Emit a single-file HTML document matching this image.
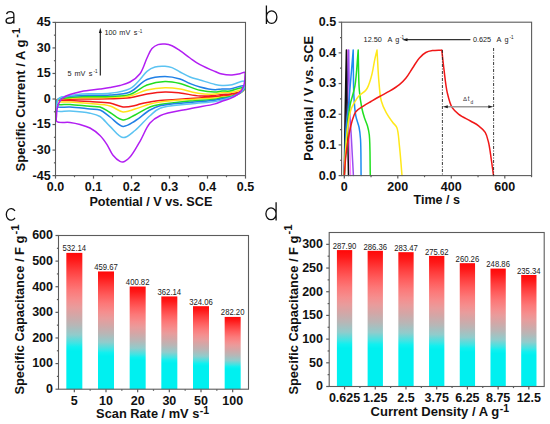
<!DOCTYPE html><html><head><meta charset="utf-8"><style>html,body{margin:0;padding:0;background:#fff;width:550px;height:424px;overflow:hidden}svg{display:block}text{font-family:"Liberation Sans",sans-serif}</style></head><body>
<svg width="550" height="424" viewBox="0 0 550 424">
<rect width="550" height="424" fill="#fff"/>
<defs><clipPath id="clipA"><rect x="55.50" y="22.40" width="190.00" height="153.20"/></clipPath></defs>
<g fill="none" stroke-width="1.5" stroke-linejoin="round" stroke-linecap="round" clip-path="url(#clipA)">
<path d="M56.60,100.10 C56.58,99.96 57.36,99.73 58.00,99.60 C59.29,99.33 61.46,99.31 64.00,99.20 C68.39,99.02 75.34,98.97 82.00,98.90 C90.31,98.82 101.45,99.05 110.00,98.80 C117.23,98.59 123.64,98.56 130.00,97.70 C135.93,96.90 141.23,94.95 147.00,94.00 C152.89,93.03 159.27,92.13 165.00,92.00 C170.22,91.88 174.65,92.42 180.00,93.00 C186.20,93.67 193.80,95.66 200.00,96.00 C205.34,96.29 210.95,95.77 215.00,95.40 C217.78,95.15 219.58,94.62 222.00,94.40 C224.57,94.17 227.35,94.41 230.00,94.10 C232.68,93.78 235.69,93.29 238.00,92.50 C239.91,91.84 241.81,90.49 243.00,90.00 C243.63,89.74 244.43,89.39 244.50,89.50 C244.58,89.63 243.66,90.48 243.00,91.00 C242.02,91.78 240.45,92.81 239.00,93.50 C237.46,94.23 235.59,94.85 234.00,95.20 C232.61,95.50 231.56,95.47 230.00,95.60 C227.79,95.78 224.58,95.89 222.00,96.10 C219.59,96.30 218.05,96.54 215.00,96.80 C209.24,97.28 198.71,97.91 190.00,98.50 C180.46,99.14 167.31,99.71 160.00,100.50 C155.76,100.96 153.33,101.42 150.00,102.00 C146.66,102.58 142.75,103.31 140.00,104.00 C138.03,104.49 137.05,105.08 135.00,105.50 C131.88,106.14 127.04,107.26 123.00,106.90 C118.71,106.52 114.85,103.89 110.00,103.00 C104.10,101.92 96.67,102.02 90.00,101.60 C83.33,101.18 76.00,100.75 70.00,100.50 C65.09,100.29 56.66,100.51 56.60,100.10Z" stroke="#f21a1a"/>
<path d="M56.60,101.50 C56.39,101.12 57.03,100.37 57.50,100.00 C58.08,99.54 58.97,99.42 60.00,99.20 C61.56,98.86 63.51,98.71 66.00,98.50 C70.05,98.16 75.92,97.87 82.00,97.70 C90.03,97.47 101.46,97.85 110.00,97.50 C117.23,97.20 123.69,97.33 130.00,96.00 C135.98,94.74 141.18,91.37 147.00,90.00 C152.84,88.63 159.27,87.92 165.00,87.80 C170.22,87.69 174.67,88.18 180.00,89.00 C186.22,89.96 193.77,92.83 200.00,93.60 C205.32,94.26 210.95,94.20 215.00,93.90 C217.78,93.69 219.58,92.95 222.00,92.70 C224.57,92.43 227.35,92.71 230.00,92.40 C232.68,92.08 235.67,91.49 238.00,90.80 C239.89,90.24 241.78,89.11 243.00,88.80 C243.67,88.63 244.48,88.40 244.60,88.60 C244.74,88.84 243.82,89.87 243.20,90.50 C242.39,91.33 241.24,92.25 240.00,93.00 C238.56,93.88 236.70,94.77 235.00,95.30 C233.37,95.81 231.87,95.94 230.00,96.20 C227.65,96.53 224.57,96.69 222.00,97.00 C219.59,97.29 218.06,97.69 215.00,98.00 C209.24,98.58 198.71,98.88 190.00,99.50 C180.45,100.18 167.30,100.97 160.00,102.00 C155.75,102.60 153.64,103.03 150.00,104.00 C145.47,105.20 139.75,107.64 135.00,109.00 C130.80,110.20 127.01,112.28 123.00,111.90 C118.68,111.49 114.92,107.38 110.00,106.00 C104.16,104.37 96.67,104.27 90.00,103.60 C83.34,102.93 76.00,102.35 70.00,102.00 C65.09,101.71 57.17,102.56 56.60,101.50Z" stroke="#ffe21a"/>
<path d="M56.60,103.90 C55.93,103.11 56.52,101.34 57.00,100.50 C57.41,99.78 58.13,99.37 59.00,99.00 C60.25,98.47 61.81,98.46 64.00,98.20 C68.13,97.71 75.33,97.09 82.00,96.80 C90.30,96.43 101.46,96.99 110.00,96.50 C117.24,96.08 123.79,96.35 130.00,94.40 C136.11,92.48 141.08,87.15 147.00,85.00 C152.76,82.91 159.26,81.67 165.00,81.50 C170.21,81.34 174.71,82.26 180.00,83.50 C186.26,84.97 193.74,88.90 200.00,90.30 C205.29,91.48 210.94,92.06 215.00,92.00 C217.78,91.96 219.58,91.17 222.00,91.00 C224.57,90.82 227.20,91.42 230.00,91.00 C233.23,90.52 237.48,88.34 240.20,87.90 C241.95,87.62 244.26,87.27 244.60,87.80 C244.84,88.18 244.08,89.12 243.60,89.80 C242.98,90.68 242.09,91.70 241.00,92.50 C239.67,93.48 237.77,94.30 236.00,95.00 C234.12,95.75 232.16,96.34 230.00,96.80 C227.54,97.32 224.57,97.38 222.00,97.80 C219.58,98.19 218.07,98.78 215.00,99.20 C209.25,99.98 198.70,100.17 190.00,101.00 C180.45,101.92 167.29,103.29 160.00,104.60 C155.75,105.36 153.58,105.64 150.00,107.00 C145.40,108.75 139.77,112.74 135.00,115.00 C130.83,116.98 127.02,120.26 123.00,120.00 C118.69,119.72 114.06,114.79 110.00,112.50 C106.46,110.51 103.45,108.02 100.00,107.00 C96.77,106.05 93.90,106.61 90.00,106.30 C84.48,105.86 76.01,104.90 70.00,104.50 C65.09,104.17 57.92,105.46 56.60,103.90Z" stroke="#22dd22"/>
<path d="M56.60,106.60 C55.59,105.52 56.37,102.89 56.80,101.50 C57.14,100.40 57.70,99.50 58.50,98.80 C59.38,98.03 60.56,97.61 62.00,97.20 C64.09,96.61 67.06,96.48 70.00,96.20 C73.59,95.86 77.16,95.60 82.00,95.40 C89.38,95.10 101.47,95.70 110.00,95.00 C117.25,94.41 123.89,94.52 130.00,92.00 C136.24,89.42 140.93,82.06 147.00,79.50 C152.65,77.11 159.27,76.50 165.00,76.50 C170.23,76.50 175.58,77.66 180.00,79.00 C183.75,80.14 186.64,82.16 190.00,83.50 C193.31,84.82 196.29,86.02 200.00,87.00 C204.45,88.17 210.93,89.57 215.00,89.70 C217.76,89.79 219.58,89.02 222.00,88.90 C224.57,88.77 227.13,89.37 230.00,89.00 C233.47,88.55 238.54,86.16 241.30,85.90 C242.85,85.75 244.57,85.62 245.00,86.20 C245.34,86.66 244.88,87.73 244.50,88.50 C244.01,89.49 243.01,90.62 242.00,91.50 C240.89,92.47 239.60,93.18 238.00,94.00 C235.83,95.12 232.71,96.51 230.00,97.30 C227.37,98.06 224.57,98.18 222.00,98.70 C219.58,99.19 218.07,99.82 215.00,100.30 C209.25,101.21 198.71,101.64 190.00,102.50 C180.45,103.45 167.22,103.93 160.00,105.80 C155.67,106.92 153.54,107.99 150.00,110.00 C145.36,112.63 139.87,118.16 135.00,121.00 C130.91,123.39 126.96,126.80 123.00,126.40 C118.62,125.95 114.06,119.89 110.00,117.00 C106.46,114.48 103.51,111.30 100.00,110.00 C96.81,108.82 93.91,109.39 90.00,109.00 C84.48,108.45 76.01,107.39 70.00,107.00 C65.09,106.68 58.24,108.35 56.60,106.60Z" stroke="#2080e6"/>
<path d="M56.60,110.70 C55.33,109.36 56.51,106.00 56.80,104.00 C57.04,102.34 57.22,100.64 58.00,99.50 C58.70,98.48 59.65,97.89 61.00,97.30 C63.13,96.38 66.78,96.13 70.00,95.60 C73.71,94.99 77.15,94.29 82.00,93.90 C89.37,93.30 101.50,94.38 110.00,93.30 C117.28,92.38 124.75,91.37 130.00,88.60 C134.26,86.36 137.05,82.55 140.00,79.50 C142.64,76.78 144.37,73.42 147.00,71.30 C149.42,69.35 152.09,67.84 155.00,67.00 C158.06,66.11 161.97,66.13 165.00,66.30 C167.55,66.45 169.66,66.76 172.00,67.60 C174.65,68.55 177.17,70.51 180.00,72.00 C183.13,73.64 186.61,75.65 190.00,77.00 C193.28,78.30 196.33,78.91 200.00,80.00 C204.49,81.33 210.92,83.48 215.00,84.40 C217.75,85.02 219.45,85.39 222.00,85.50 C225.03,85.63 228.58,85.45 232.00,84.80 C235.77,84.08 241.68,80.48 243.60,81.10 C244.44,81.37 244.76,82.24 245.00,83.00 C245.28,83.89 245.15,85.20 244.90,86.20 C244.65,87.19 244.13,88.05 243.50,89.00 C242.74,90.15 241.70,91.49 240.50,92.50 C239.22,93.58 237.64,94.36 236.00,95.20 C234.17,96.14 232.17,97.05 230.00,97.80 C227.55,98.65 224.58,99.27 222.00,99.90 C219.59,100.49 218.07,101.00 215.00,101.50 C209.25,102.44 198.70,102.94 190.00,104.00 C180.44,105.16 167.08,105.39 160.00,108.30 C155.47,110.16 153.55,112.66 150.00,115.70 C145.37,119.66 139.95,126.68 135.00,130.50 C130.97,133.61 126.96,137.95 123.00,137.60 C118.61,137.21 113.99,130.09 110.00,126.40 C106.39,123.06 103.61,118.71 100.00,116.50 C96.88,114.59 93.96,114.06 90.00,113.20 C84.53,112.01 76.01,111.40 70.00,111.00 C65.10,110.68 58.40,112.59 56.60,110.70Z" stroke="#5bc3f2"/>
<path d="M56.80,121.50 C55.63,120.30 56.47,117.94 56.50,116.00 C56.53,113.81 56.72,111.13 57.10,109.00 C57.43,107.15 57.85,105.46 58.50,103.90 C59.11,102.44 59.83,101.04 60.80,99.90 C61.74,98.78 62.85,97.94 64.20,97.10 C65.82,96.09 67.70,95.31 70.00,94.50 C73.15,93.39 77.18,92.35 81.50,91.50 C86.91,90.43 94.78,89.74 100.00,89.00 C103.84,88.45 106.67,88.08 110.00,87.50 C113.34,86.92 116.70,86.40 120.00,85.50 C123.37,84.58 126.82,83.80 130.00,82.00 C133.52,80.01 137.27,77.30 140.00,73.70 C143.14,69.56 144.79,62.55 147.00,58.00 C148.74,54.41 149.90,50.80 152.00,48.50 C153.71,46.62 155.82,45.35 158.00,44.60 C160.16,43.86 162.68,43.82 165.00,44.00 C167.35,44.18 169.67,44.73 172.00,45.70 C174.66,46.81 177.23,48.73 180.00,50.60 C183.19,52.75 186.64,55.63 190.00,58.00 C193.31,60.33 196.23,62.60 200.00,64.70 C204.41,67.15 210.92,69.82 215.00,71.50 C217.75,72.63 219.42,73.51 222.00,74.10 C225.00,74.78 228.86,75.09 232.00,75.00 C234.82,74.92 237.70,74.33 240.00,73.80 C241.79,73.38 243.89,71.74 244.70,72.30 C245.49,72.85 244.92,75.43 244.90,77.00 C244.88,78.57 244.82,80.16 244.60,81.70 C244.38,83.22 244.13,84.73 243.60,86.20 C243.05,87.74 242.30,89.31 241.30,90.70 C240.25,92.16 239.02,93.49 237.40,94.70 C235.42,96.18 232.56,97.52 230.00,98.60 C227.43,99.69 224.57,100.29 222.00,101.20 C219.58,102.06 218.10,103.01 215.00,103.90 C209.28,105.54 198.69,106.85 190.00,108.70 C180.44,110.73 167.10,112.45 160.00,115.70 C155.50,117.76 153.00,119.58 150.00,123.00 C146.11,127.44 143.43,135.49 140.00,141.30 C136.76,146.79 133.39,153.42 130.00,157.00 C127.69,159.43 124.92,161.59 123.00,162.00 C121.85,162.25 121.12,161.95 120.00,161.40 C118.04,160.44 115.06,157.83 113.00,155.30 C110.64,152.39 109.21,147.95 107.00,144.60 C104.86,141.36 102.75,138.22 100.00,135.50 C97.13,132.66 93.48,129.86 90.00,128.00 C86.79,126.29 83.37,125.42 80.00,124.50 C76.70,123.60 73.58,122.99 70.00,122.50 C65.92,121.94 58.62,123.36 56.80,121.50Z" stroke="#b21ef2"/>
</g>
<rect x="55.50" y="22.40" width="190.00" height="153.20" fill="none" stroke="#5c5c5c" stroke-width="1.1"/>
<line x1="52.50" y1="22.40" x2="55.50" y2="22.40" stroke="#5c5c5c" stroke-width="1.20" />
<text x="50.60" y="26.30" font-size="12.50" font-weight="bold" text-anchor="end" fill="#111" >45</text>
<line x1="52.50" y1="47.93" x2="55.50" y2="47.93" stroke="#5c5c5c" stroke-width="1.20" />
<text x="50.60" y="51.83" font-size="12.50" font-weight="bold" text-anchor="end" fill="#111" >30</text>
<line x1="52.50" y1="73.47" x2="55.50" y2="73.47" stroke="#5c5c5c" stroke-width="1.20" />
<text x="50.60" y="77.37" font-size="12.50" font-weight="bold" text-anchor="end" fill="#111" >15</text>
<line x1="52.50" y1="99.00" x2="55.50" y2="99.00" stroke="#5c5c5c" stroke-width="1.20" />
<text x="50.60" y="102.90" font-size="12.50" font-weight="bold" text-anchor="end" fill="#111" >0</text>
<line x1="52.50" y1="124.53" x2="55.50" y2="124.53" stroke="#5c5c5c" stroke-width="1.20" />
<text x="50.60" y="128.43" font-size="12.50" font-weight="bold" text-anchor="end" fill="#111" >-15</text>
<line x1="52.50" y1="150.07" x2="55.50" y2="150.07" stroke="#5c5c5c" stroke-width="1.20" />
<text x="50.60" y="153.97" font-size="12.50" font-weight="bold" text-anchor="end" fill="#111" >-30</text>
<line x1="52.50" y1="175.60" x2="55.50" y2="175.60" stroke="#5c5c5c" stroke-width="1.20" />
<text x="50.60" y="179.50" font-size="12.50" font-weight="bold" text-anchor="end" fill="#111" >-45</text>
<line x1="53.90" y1="35.17" x2="55.50" y2="35.17" stroke="#5c5c5c" stroke-width="1.20" />
<line x1="53.90" y1="60.70" x2="55.50" y2="60.70" stroke="#5c5c5c" stroke-width="1.20" />
<line x1="53.90" y1="86.23" x2="55.50" y2="86.23" stroke="#5c5c5c" stroke-width="1.20" />
<line x1="53.90" y1="111.77" x2="55.50" y2="111.77" stroke="#5c5c5c" stroke-width="1.20" />
<line x1="53.90" y1="137.30" x2="55.50" y2="137.30" stroke="#5c5c5c" stroke-width="1.20" />
<line x1="53.90" y1="162.83" x2="55.50" y2="162.83" stroke="#5c5c5c" stroke-width="1.20" />
<line x1="55.50" y1="175.60" x2="55.50" y2="178.60" stroke="#5c5c5c" stroke-width="1.20" />
<text x="55.50" y="191.00" font-size="12.50" font-weight="bold" text-anchor="middle" fill="#111" >0.0</text>
<line x1="93.50" y1="175.60" x2="93.50" y2="178.60" stroke="#5c5c5c" stroke-width="1.20" />
<text x="93.50" y="191.00" font-size="12.50" font-weight="bold" text-anchor="middle" fill="#111" >0.1</text>
<line x1="131.50" y1="175.60" x2="131.50" y2="178.60" stroke="#5c5c5c" stroke-width="1.20" />
<text x="131.50" y="191.00" font-size="12.50" font-weight="bold" text-anchor="middle" fill="#111" >0.2</text>
<line x1="169.50" y1="175.60" x2="169.50" y2="178.60" stroke="#5c5c5c" stroke-width="1.20" />
<text x="169.50" y="191.00" font-size="12.50" font-weight="bold" text-anchor="middle" fill="#111" >0.3</text>
<line x1="207.50" y1="175.60" x2="207.50" y2="178.60" stroke="#5c5c5c" stroke-width="1.20" />
<text x="207.50" y="191.00" font-size="12.50" font-weight="bold" text-anchor="middle" fill="#111" >0.4</text>
<line x1="245.50" y1="175.60" x2="245.50" y2="178.60" stroke="#5c5c5c" stroke-width="1.20" />
<text x="245.50" y="191.00" font-size="12.50" font-weight="bold" text-anchor="middle" fill="#111" >0.5</text>
<line x1="74.50" y1="175.60" x2="74.50" y2="177.20" stroke="#5c5c5c" stroke-width="1.20" />
<line x1="112.50" y1="175.60" x2="112.50" y2="177.20" stroke="#5c5c5c" stroke-width="1.20" />
<line x1="150.50" y1="175.60" x2="150.50" y2="177.20" stroke="#5c5c5c" stroke-width="1.20" />
<line x1="188.50" y1="175.60" x2="188.50" y2="177.20" stroke="#5c5c5c" stroke-width="1.20" />
<line x1="226.50" y1="175.60" x2="226.50" y2="177.20" stroke="#5c5c5c" stroke-width="1.20" />
<text x="89.40" y="205.80" font-size="12.5" font-weight="bold" fill="#111" textLength="123.00" lengthAdjust="spacingAndGlyphs">Potential / V vs. SCE</text>
<g transform="translate(24.50,171.50) rotate(-90)">
<text x="0.00" y="0.00" font-size="12.5" font-weight="bold" fill="#111" textLength="132.00" lengthAdjust="spacingAndGlyphs">Specific Current / A g</text>
<text x="133.80" y="-4.40" font-size="11.00" font-weight="bold" fill="#111">-1</text>
</g>
<line x1="100.30" y1="75.60" x2="100.30" y2="32.00" stroke="#111" stroke-width="1.10" />
<path d="M100.3,27.8 L98.9,33 L101.7,33 Z" fill="#111"/>
<text x="104.40" y="35.40" font-size="7.30" fill="#222">100</text>
<text x="119.30" y="35.40" font-size="7.30" fill="#222">m</text>
<text x="125.60" y="35.40" font-size="7.30" fill="#222">V</text>
<text x="133.80" y="35.40" font-size="7.30" fill="#222">s</text>
<text x="138.30" y="32.60" font-size="4.60" fill="#222">-1</text>
<text x="67.60" y="75.70" font-size="7.30" fill="#222">5</text>
<text x="74.50" y="75.70" font-size="7.30" fill="#222">m</text>
<text x="80.50" y="75.70" font-size="7.30" fill="#222">V</text>
<text x="88.80" y="75.70" font-size="7.30" fill="#222">s</text>
<text x="93.60" y="72.80" font-size="4.60" fill="#222">-1</text>
<path d="M6.6,14.2 C7.0,12.3 8.3,11.55 10.1,11.55 C12.4,11.55 13.85,12.6 13.85,14.8 L13.85,23.6 M13.85,17.0 C12.9,17.6 11.2,17.7 9.4,17.9 C7.2,18.2 6.05,19.1 6.05,20.7 C6.05,22.3 7.3,23.25 9.3,23.25 C11.9,23.25 13.85,21.6 13.85,19.2" fill="none" stroke="#111" stroke-width="1.3"/>
<g fill="none" stroke-width="1.5" stroke-linejoin="round" stroke-linecap="round">
<path d="M344.30,175.50 C344.70,157.00 345.02,139.57 345.50,120.00 C346.04,98.04 346.77,73.40 347.40,50.10 M347.40,50.10 C347.60,70.07 347.51,94.33 348.00,110.00 C348.31,120.13 348.92,125.66 349.30,135.00 C349.78,146.88 350.10,162.00 350.50,175.50" stroke="#ff80ff"/>
<path d="M344.30,175.50 C344.87,157.00 345.32,139.56 346.00,120.00 C346.76,98.04 347.80,73.40 348.70,50.10 M348.70,50.10 C349.00,70.07 348.98,94.33 349.60,110.00 C350.00,120.13 350.65,125.66 351.20,135.00 C351.90,146.88 352.67,162.00 353.40,175.50" stroke="#9b4ff0"/>
<path d="M344.30,175.50 C344.60,153.67 344.84,131.35 345.20,110.00 C345.54,89.59 346.00,70.07 346.40,50.10 M346.40,50.10 C346.60,70.07 346.70,93.45 347.00,110.00 C347.21,121.71 347.56,129.58 347.80,140.00 C348.06,151.34 348.27,163.67 348.50,175.50" stroke="#111"/>
<path d="M344.30,175.50 C344.87,160.33 345.07,143.58 346.00,130.00 C346.76,118.95 347.96,111.27 349.00,100.00 C350.34,85.48 351.80,66.73 353.20,50.10 M353.20,50.10 C353.43,65.43 353.23,83.96 353.90,96.10 C354.34,104.08 354.73,110.22 355.80,115.90 C356.63,120.32 358.32,123.61 359.10,127.50 C359.87,131.31 360.16,134.08 360.50,139.00 C361.10,147.74 360.90,163.33 361.10,175.50" stroke="#1e8cf0"/>
<path d="M344.30,175.50 C345.03,163.67 345.55,151.70 346.50,140.00 C347.43,128.54 348.19,115.76 349.90,106.00 C351.22,98.46 353.59,93.84 354.90,86.20 C356.64,76.02 357.10,62.13 358.20,50.10 M358.20,50.10 C358.57,63.40 358.41,79.33 359.30,90.00 C359.90,97.20 360.76,102.90 361.80,108.00 C362.58,111.85 363.49,114.87 364.50,118.00 C365.41,120.84 366.71,123.22 367.50,126.00 C368.32,128.88 368.84,130.90 369.30,135.00 C370.26,143.62 369.97,162.00 370.30,175.50" stroke="#20e020"/>
<path d="M344.30,175.50 C344.83,165.47 345.19,154.45 345.90,145.40 C346.48,137.93 347.08,131.28 348.00,125.00 C348.80,119.54 349.50,113.97 350.90,109.80 C351.95,106.66 353.40,104.30 354.80,101.90 C356.06,99.74 357.10,97.90 358.80,96.00 C360.82,93.75 364.38,92.37 366.40,89.50 C368.80,86.09 370.05,81.00 371.40,76.30 C372.88,71.16 373.66,64.57 374.70,59.80 C375.50,56.13 376.23,53.33 377.00,50.10 M377.00,50.10 C377.67,61.03 378.13,73.59 379.00,82.90 C379.65,89.84 379.88,95.72 381.30,101.00 C382.48,105.39 384.25,108.97 386.20,112.60 C388.10,116.13 390.82,119.79 392.80,122.50 C394.25,124.49 395.77,125.13 396.80,127.50 C398.54,131.51 398.62,138.80 399.40,145.60 C400.40,154.31 401.13,165.53 402.00,175.50" stroke="#ffe81a"/>
<path d="M344.30,175.50 C344.83,168.77 345.13,161.99 345.90,155.30 C346.67,148.65 347.80,141.49 348.90,135.50 C349.83,130.47 350.63,125.87 351.90,121.70 C353.00,118.08 353.77,114.46 355.80,111.80 C357.76,109.24 361.08,107.66 363.70,105.90 C366.14,104.26 368.46,103.00 371.00,101.50 C373.74,99.88 376.62,98.16 379.60,96.50 C382.77,94.73 386.25,93.15 389.50,91.20 C392.85,89.19 396.53,86.95 399.40,84.60 C401.94,82.52 403.92,80.55 406.00,78.00 C408.36,75.11 410.39,71.31 412.60,68.00 C414.79,64.71 416.81,60.90 419.20,58.20 C421.26,55.88 423.45,53.77 425.80,52.50 C427.88,51.37 429.98,51.01 432.40,50.60 C435.23,50.12 438.67,50.27 441.80,50.10 M441.80,50.10 C442.53,56.63 443.13,62.91 444.00,69.70 C444.94,77.09 445.71,86.00 447.30,92.80 C448.60,98.37 449.88,103.93 452.20,107.70 C453.99,110.61 456.13,112.26 458.80,114.30 C462.01,116.76 466.96,118.94 470.50,121.00 C473.45,122.72 476.15,123.89 478.60,125.80 C481.04,127.70 483.56,129.75 485.20,132.40 C486.93,135.20 487.57,138.54 488.50,142.30 C489.68,147.06 490.37,153.28 491.20,158.80 C492.04,164.34 492.73,169.93 493.50,175.50" stroke="#f01818"/>
</g>
<rect x="341.60" y="22.20" width="190.00" height="153.40" fill="none" stroke="#5c5c5c" stroke-width="1.1"/>
<line x1="338.60" y1="175.60" x2="341.60" y2="175.60" stroke="#5c5c5c" stroke-width="1.20" />
<text x="336.20" y="179.50" font-size="12.50" font-weight="bold" text-anchor="end" fill="#111" >0.0</text>
<line x1="338.60" y1="144.92" x2="341.60" y2="144.92" stroke="#5c5c5c" stroke-width="1.20" />
<text x="336.20" y="148.82" font-size="12.50" font-weight="bold" text-anchor="end" fill="#111" >0.1</text>
<line x1="338.60" y1="114.24" x2="341.60" y2="114.24" stroke="#5c5c5c" stroke-width="1.20" />
<text x="336.20" y="118.14" font-size="12.50" font-weight="bold" text-anchor="end" fill="#111" >0.2</text>
<line x1="338.60" y1="83.56" x2="341.60" y2="83.56" stroke="#5c5c5c" stroke-width="1.20" />
<text x="336.20" y="87.46" font-size="12.50" font-weight="bold" text-anchor="end" fill="#111" >0.3</text>
<line x1="338.60" y1="52.88" x2="341.60" y2="52.88" stroke="#5c5c5c" stroke-width="1.20" />
<text x="336.20" y="56.78" font-size="12.50" font-weight="bold" text-anchor="end" fill="#111" >0.4</text>
<line x1="338.60" y1="22.20" x2="341.60" y2="22.20" stroke="#5c5c5c" stroke-width="1.20" />
<text x="336.20" y="26.10" font-size="12.50" font-weight="bold" text-anchor="end" fill="#111" >0.5</text>
<line x1="340.00" y1="160.26" x2="341.60" y2="160.26" stroke="#5c5c5c" stroke-width="1.20" />
<line x1="340.00" y1="129.58" x2="341.60" y2="129.58" stroke="#5c5c5c" stroke-width="1.20" />
<line x1="340.00" y1="98.90" x2="341.60" y2="98.90" stroke="#5c5c5c" stroke-width="1.20" />
<line x1="340.00" y1="68.22" x2="341.60" y2="68.22" stroke="#5c5c5c" stroke-width="1.20" />
<line x1="340.00" y1="37.54" x2="341.60" y2="37.54" stroke="#5c5c5c" stroke-width="1.20" />
<line x1="344.30" y1="175.60" x2="344.30" y2="178.60" stroke="#5c5c5c" stroke-width="1.20" />
<text x="344.30" y="191.00" font-size="12.50" font-weight="bold" text-anchor="middle" fill="#111" >0</text>
<line x1="397.80" y1="175.60" x2="397.80" y2="178.60" stroke="#5c5c5c" stroke-width="1.20" />
<text x="397.80" y="191.00" font-size="12.50" font-weight="bold" text-anchor="middle" fill="#111" >200</text>
<line x1="451.30" y1="175.60" x2="451.30" y2="178.60" stroke="#5c5c5c" stroke-width="1.20" />
<text x="451.30" y="191.00" font-size="12.50" font-weight="bold" text-anchor="middle" fill="#111" >400</text>
<line x1="504.80" y1="175.60" x2="504.80" y2="178.60" stroke="#5c5c5c" stroke-width="1.20" />
<text x="504.80" y="191.00" font-size="12.50" font-weight="bold" text-anchor="middle" fill="#111" >600</text>
<line x1="371.05" y1="175.60" x2="371.05" y2="177.20" stroke="#5c5c5c" stroke-width="1.20" />
<line x1="424.55" y1="175.60" x2="424.55" y2="177.20" stroke="#5c5c5c" stroke-width="1.20" />
<line x1="478.05" y1="175.60" x2="478.05" y2="177.20" stroke="#5c5c5c" stroke-width="1.20" />
<line x1="531.55" y1="175.60" x2="531.55" y2="177.20" stroke="#5c5c5c" stroke-width="1.20" />
<text x="413.50" y="204.40" font-size="12.5" font-weight="bold" fill="#111" textLength="46.50" lengthAdjust="spacingAndGlyphs">Time / s</text>
<g transform="translate(313.40,160.80) rotate(-90)">
<text x="0.00" y="0.00" font-size="12.5" font-weight="bold" fill="#111" textLength="124.80" lengthAdjust="spacingAndGlyphs">Potential / V vs. SCE</text>
</g>
<g stroke="#222" stroke-width="0.9" stroke-dasharray="3,1.5,1,1.5">
<line x1="442.40" y1="50.00" x2="442.40" y2="175.50" stroke="#222" stroke-width="0.90" />
<line x1="493.60" y1="48.00" x2="493.60" y2="175.50" stroke="#222" stroke-width="0.90" />
</g>
<line x1="406.00" y1="39.70" x2="470.40" y2="39.70" stroke="#333" stroke-width="1.30" />
<path d="M402,39.7 L407.5,38.2 L407.5,41.2 Z" fill="#111"/>
<text x="363.60" y="42.10" font-size="7.30" fill="#222">12.50</text>
<text x="387.60" y="42.10" font-size="7.30" fill="#222">A</text>
<text x="395.30" y="42.10" font-size="7.30" fill="#222">g</text>
<text x="399.90" y="39.00" font-size="4.60" fill="#222">-1</text>
<text x="472.90" y="42.30" font-size="7.30" fill="#222">0.625</text>
<text x="496.40" y="42.30" font-size="7.30" fill="#222">A</text>
<text x="504.60" y="42.30" font-size="7.30" fill="#222">g</text>
<text x="509.60" y="39.20" font-size="4.60" fill="#222">-1</text>
<line x1="446.00" y1="106.80" x2="490.00" y2="106.80" stroke="#9a9a9a" stroke-width="1.40" />
<path d="M442.8,106.8 L447.8,105.3 L447.8,108.3 Z" fill="#222"/>
<path d="M493.3,106.8 L488.3,105.3 L488.3,108.3 Z" fill="#222"/>
<text x="463.0" y="101" font-size="6.0" fill="#333">&#916;</text>
<text x="467.8" y="101" font-size="6.3" fill="#333">t</text>
<text x="470.4" y="104" font-size="4.8" fill="#333">d</text>
<path d="M266.4,5.5 L266.4,24 M266.4,17.1 A5.25,6.3 0 1 0 276.9,17.1 A5.25,6.3 0 1 0 266.4,17.1" fill="none" stroke="#111" stroke-width="1.3"/>
<defs><linearGradient id="g" x1="0" y1="0" x2="0" y2="1"><stop offset="0" stop-color="#ff0808"/><stop offset="0.05" stop-color="#ff1818"/><stop offset="0.125" stop-color="#ff3c3c"/><stop offset="0.2" stop-color="#ff5c5c"/><stop offset="0.272" stop-color="#fc7878"/><stop offset="0.345" stop-color="#f58e8e"/><stop offset="0.4" stop-color="#e89c9c"/><stop offset="0.456" stop-color="#d4a6a6"/><stop offset="0.529" stop-color="#b8b6b6"/><stop offset="0.602" stop-color="#90cccc"/><stop offset="0.661" stop-color="#40e4e4"/><stop offset="0.69" stop-color="#10f0f0"/><stop offset="0.72" stop-color="#00f0f0"/><stop offset="1" stop-color="#00f0f0"/></linearGradient></defs>
<rect x="66.33" y="252.88" width="16" height="136.32" fill="url(#g)"/>
<text x="62.53" y="251.38" font-size="8.7" fill="#1a1a1a" textLength="23.6" lengthAdjust="spacingAndGlyphs">532.14</text>
<rect x="98.00" y="271.45" width="16" height="117.75" fill="url(#g)"/>
<text x="94.20" y="269.95" font-size="8.7" fill="#1a1a1a" textLength="23.6" lengthAdjust="spacingAndGlyphs">459.67</text>
<rect x="129.67" y="286.52" width="16" height="102.68" fill="url(#g)"/>
<text x="125.87" y="285.02" font-size="8.7" fill="#1a1a1a" textLength="23.6" lengthAdjust="spacingAndGlyphs">400.82</text>
<rect x="161.33" y="296.43" width="16" height="92.77" fill="url(#g)"/>
<text x="157.53" y="294.93" font-size="8.7" fill="#1a1a1a" textLength="23.6" lengthAdjust="spacingAndGlyphs">362.14</text>
<rect x="193.00" y="306.19" width="16" height="83.01" fill="url(#g)"/>
<text x="189.20" y="304.69" font-size="8.7" fill="#1a1a1a" textLength="23.6" lengthAdjust="spacingAndGlyphs">324.06</text>
<rect x="224.67" y="316.91" width="16" height="72.29" fill="url(#g)"/>
<text x="220.87" y="315.41" font-size="8.7" fill="#1a1a1a" textLength="23.6" lengthAdjust="spacingAndGlyphs">282.20</text>
<rect x="58.50" y="235.50" width="190.00" height="153.70" fill="none" stroke="#5c5c5c" stroke-width="1.1"/>
<line x1="55.50" y1="389.20" x2="58.50" y2="389.20" stroke="#5c5c5c" stroke-width="1.20" />
<text x="53.00" y="393.10" font-size="12.50" font-weight="bold" text-anchor="end" fill="#111" >0</text>
<line x1="55.50" y1="363.58" x2="58.50" y2="363.58" stroke="#5c5c5c" stroke-width="1.20" />
<text x="53.00" y="367.48" font-size="12.50" font-weight="bold" text-anchor="end" fill="#111" >100</text>
<line x1="55.50" y1="337.97" x2="58.50" y2="337.97" stroke="#5c5c5c" stroke-width="1.20" />
<text x="53.00" y="341.87" font-size="12.50" font-weight="bold" text-anchor="end" fill="#111" >200</text>
<line x1="55.50" y1="312.35" x2="58.50" y2="312.35" stroke="#5c5c5c" stroke-width="1.20" />
<text x="53.00" y="316.25" font-size="12.50" font-weight="bold" text-anchor="end" fill="#111" >300</text>
<line x1="55.50" y1="286.73" x2="58.50" y2="286.73" stroke="#5c5c5c" stroke-width="1.20" />
<text x="53.00" y="290.63" font-size="12.50" font-weight="bold" text-anchor="end" fill="#111" >400</text>
<line x1="55.50" y1="261.12" x2="58.50" y2="261.12" stroke="#5c5c5c" stroke-width="1.20" />
<text x="53.00" y="265.02" font-size="12.50" font-weight="bold" text-anchor="end" fill="#111" >500</text>
<line x1="55.50" y1="235.50" x2="58.50" y2="235.50" stroke="#5c5c5c" stroke-width="1.20" />
<text x="53.00" y="239.40" font-size="12.50" font-weight="bold" text-anchor="end" fill="#111" >600</text>
<line x1="56.90" y1="376.39" x2="58.50" y2="376.39" stroke="#5c5c5c" stroke-width="1.20" />
<line x1="56.90" y1="350.77" x2="58.50" y2="350.77" stroke="#5c5c5c" stroke-width="1.20" />
<line x1="56.90" y1="325.16" x2="58.50" y2="325.16" stroke="#5c5c5c" stroke-width="1.20" />
<line x1="56.90" y1="299.54" x2="58.50" y2="299.54" stroke="#5c5c5c" stroke-width="1.20" />
<line x1="56.90" y1="273.92" x2="58.50" y2="273.92" stroke="#5c5c5c" stroke-width="1.20" />
<line x1="56.90" y1="248.31" x2="58.50" y2="248.31" stroke="#5c5c5c" stroke-width="1.20" />
<line x1="74.33" y1="389.20" x2="74.33" y2="392.20" stroke="#5c5c5c" stroke-width="1.20" />
<line x1="106.00" y1="389.20" x2="106.00" y2="392.20" stroke="#5c5c5c" stroke-width="1.20" />
<line x1="137.67" y1="389.20" x2="137.67" y2="392.20" stroke="#5c5c5c" stroke-width="1.20" />
<line x1="169.33" y1="389.20" x2="169.33" y2="392.20" stroke="#5c5c5c" stroke-width="1.20" />
<line x1="201.00" y1="389.20" x2="201.00" y2="392.20" stroke="#5c5c5c" stroke-width="1.20" />
<line x1="232.67" y1="389.20" x2="232.67" y2="392.20" stroke="#5c5c5c" stroke-width="1.20" />
<line x1="90.17" y1="389.20" x2="90.17" y2="390.80" stroke="#5c5c5c" stroke-width="1.20" />
<line x1="121.83" y1="389.20" x2="121.83" y2="390.80" stroke="#5c5c5c" stroke-width="1.20" />
<line x1="153.50" y1="389.20" x2="153.50" y2="390.80" stroke="#5c5c5c" stroke-width="1.20" />
<line x1="185.17" y1="389.20" x2="185.17" y2="390.80" stroke="#5c5c5c" stroke-width="1.20" />
<line x1="216.83" y1="389.20" x2="216.83" y2="390.80" stroke="#5c5c5c" stroke-width="1.20" />
<text x="74.33" y="404.60" font-size="12.50" font-weight="bold" text-anchor="middle" fill="#111" >5</text>
<text x="106.00" y="404.60" font-size="12.50" font-weight="bold" text-anchor="middle" fill="#111" >10</text>
<text x="137.67" y="404.60" font-size="12.50" font-weight="bold" text-anchor="middle" fill="#111" >20</text>
<text x="169.33" y="404.60" font-size="12.50" font-weight="bold" text-anchor="middle" fill="#111" >30</text>
<text x="201.00" y="404.60" font-size="12.50" font-weight="bold" text-anchor="middle" fill="#111" >50</text>
<text x="232.67" y="404.60" font-size="12.50" font-weight="bold" text-anchor="middle" fill="#111" >100</text>
<text x="96.10" y="417.60" font-size="12.5" font-weight="bold" fill="#111" textLength="103.20" lengthAdjust="spacingAndGlyphs">Scan Rate / mV s</text>
<text x="199.80" y="414.20" font-size="10.50" font-weight="bold" fill="#111">-1</text>
<g transform="translate(24.30,394.60) rotate(-90)">
<text x="0.00" y="0.00" font-size="12.5" font-weight="bold" fill="#111" textLength="159.00" lengthAdjust="spacingAndGlyphs">Specific Capacitance / F g</text>
<text x="160.20" y="-5.40" font-size="11.20" font-weight="bold" fill="#111">-1</text>
</g>
<path d="M15.0,211.0 A4.8,5.8 0 1 0 15.0,217.8" fill="none" stroke="#111" stroke-width="1.3"/>
<rect x="336.91" y="250.08" width="15.3" height="136.42" fill="url(#g)"/>
<text x="332.76" y="248.88" font-size="8.7" fill="#1a1a1a" textLength="23.6" lengthAdjust="spacingAndGlyphs">287.90</text>
<rect x="367.62" y="250.81" width="15.3" height="135.69" fill="url(#g)"/>
<text x="363.47" y="249.61" font-size="8.7" fill="#1a1a1a" textLength="23.6" lengthAdjust="spacingAndGlyphs">286.36</text>
<rect x="398.34" y="252.18" width="15.3" height="134.32" fill="url(#g)"/>
<text x="394.19" y="250.98" font-size="8.7" fill="#1a1a1a" textLength="23.6" lengthAdjust="spacingAndGlyphs">283.47</text>
<rect x="429.05" y="255.90" width="15.3" height="130.60" fill="url(#g)"/>
<text x="424.90" y="254.70" font-size="8.7" fill="#1a1a1a" textLength="23.6" lengthAdjust="spacingAndGlyphs">275.62</text>
<rect x="459.76" y="263.18" width="15.3" height="123.32" fill="url(#g)"/>
<text x="455.61" y="261.98" font-size="8.7" fill="#1a1a1a" textLength="23.6" lengthAdjust="spacingAndGlyphs">260.26</text>
<rect x="490.48" y="268.58" width="15.3" height="117.92" fill="url(#g)"/>
<text x="486.33" y="267.38" font-size="8.7" fill="#1a1a1a" textLength="23.6" lengthAdjust="spacingAndGlyphs">248.86</text>
<rect x="521.19" y="274.99" width="15.3" height="111.51" fill="url(#g)"/>
<text x="517.04" y="273.79" font-size="8.7" fill="#1a1a1a" textLength="23.6" lengthAdjust="spacingAndGlyphs">235.34</text>
<rect x="329.20" y="232.50" width="215.00" height="154.00" fill="none" stroke="#5c5c5c" stroke-width="1.1"/>
<line x1="326.20" y1="386.50" x2="329.20" y2="386.50" stroke="#5c5c5c" stroke-width="1.20" />
<text x="323.00" y="390.40" font-size="12.50" font-weight="bold" text-anchor="end" fill="#111" >0</text>
<line x1="326.20" y1="362.81" x2="329.20" y2="362.81" stroke="#5c5c5c" stroke-width="1.20" />
<text x="323.00" y="366.71" font-size="12.50" font-weight="bold" text-anchor="end" fill="#111" >50</text>
<line x1="326.20" y1="339.12" x2="329.20" y2="339.12" stroke="#5c5c5c" stroke-width="1.20" />
<text x="323.00" y="343.02" font-size="12.50" font-weight="bold" text-anchor="end" fill="#111" >100</text>
<line x1="326.20" y1="315.42" x2="329.20" y2="315.42" stroke="#5c5c5c" stroke-width="1.20" />
<text x="323.00" y="319.32" font-size="12.50" font-weight="bold" text-anchor="end" fill="#111" >150</text>
<line x1="326.20" y1="291.73" x2="329.20" y2="291.73" stroke="#5c5c5c" stroke-width="1.20" />
<text x="323.00" y="295.63" font-size="12.50" font-weight="bold" text-anchor="end" fill="#111" >200</text>
<line x1="326.20" y1="268.04" x2="329.20" y2="268.04" stroke="#5c5c5c" stroke-width="1.20" />
<text x="323.00" y="271.94" font-size="12.50" font-weight="bold" text-anchor="end" fill="#111" >250</text>
<line x1="326.20" y1="244.35" x2="329.20" y2="244.35" stroke="#5c5c5c" stroke-width="1.20" />
<text x="323.00" y="248.25" font-size="12.50" font-weight="bold" text-anchor="end" fill="#111" >300</text>
<line x1="327.60" y1="374.65" x2="329.20" y2="374.65" stroke="#5c5c5c" stroke-width="1.20" />
<line x1="327.60" y1="350.96" x2="329.20" y2="350.96" stroke="#5c5c5c" stroke-width="1.20" />
<line x1="327.60" y1="327.27" x2="329.20" y2="327.27" stroke="#5c5c5c" stroke-width="1.20" />
<line x1="327.60" y1="303.58" x2="329.20" y2="303.58" stroke="#5c5c5c" stroke-width="1.20" />
<line x1="327.60" y1="279.88" x2="329.20" y2="279.88" stroke="#5c5c5c" stroke-width="1.20" />
<line x1="327.60" y1="256.19" x2="329.20" y2="256.19" stroke="#5c5c5c" stroke-width="1.20" />
<line x1="344.56" y1="386.50" x2="344.56" y2="389.50" stroke="#5c5c5c" stroke-width="1.20" />
<line x1="375.27" y1="386.50" x2="375.27" y2="389.50" stroke="#5c5c5c" stroke-width="1.20" />
<line x1="405.99" y1="386.50" x2="405.99" y2="389.50" stroke="#5c5c5c" stroke-width="1.20" />
<line x1="436.70" y1="386.50" x2="436.70" y2="389.50" stroke="#5c5c5c" stroke-width="1.20" />
<line x1="467.41" y1="386.50" x2="467.41" y2="389.50" stroke="#5c5c5c" stroke-width="1.20" />
<line x1="498.13" y1="386.50" x2="498.13" y2="389.50" stroke="#5c5c5c" stroke-width="1.20" />
<line x1="528.84" y1="386.50" x2="528.84" y2="389.50" stroke="#5c5c5c" stroke-width="1.20" />
<line x1="359.91" y1="386.50" x2="359.91" y2="388.10" stroke="#5c5c5c" stroke-width="1.20" />
<line x1="390.63" y1="386.50" x2="390.63" y2="388.10" stroke="#5c5c5c" stroke-width="1.20" />
<line x1="421.34" y1="386.50" x2="421.34" y2="388.10" stroke="#5c5c5c" stroke-width="1.20" />
<line x1="452.06" y1="386.50" x2="452.06" y2="388.10" stroke="#5c5c5c" stroke-width="1.20" />
<line x1="482.77" y1="386.50" x2="482.77" y2="388.10" stroke="#5c5c5c" stroke-width="1.20" />
<line x1="513.49" y1="386.50" x2="513.49" y2="388.10" stroke="#5c5c5c" stroke-width="1.20" />
<text x="344.56" y="401.60" font-size="12.50" font-weight="bold" text-anchor="middle" fill="#111" >0.625</text>
<text x="375.27" y="401.60" font-size="12.50" font-weight="bold" text-anchor="middle" fill="#111" >1.25</text>
<text x="405.99" y="401.60" font-size="12.50" font-weight="bold" text-anchor="middle" fill="#111" >2.5</text>
<text x="436.70" y="401.60" font-size="12.50" font-weight="bold" text-anchor="middle" fill="#111" >3.75</text>
<text x="467.41" y="401.60" font-size="12.50" font-weight="bold" text-anchor="middle" fill="#111" >6.25</text>
<text x="498.13" y="401.60" font-size="12.50" font-weight="bold" text-anchor="middle" fill="#111" >8.75</text>
<text x="528.84" y="401.60" font-size="12.50" font-weight="bold" text-anchor="middle" fill="#111" >12.5</text>
<text x="370.60" y="415.60" font-size="12.5" font-weight="bold" fill="#111" textLength="128.60" lengthAdjust="spacingAndGlyphs">Current Density / A g</text>
<text x="499.70" y="412.20" font-size="10.50" font-weight="bold" fill="#111">-1</text>
<g transform="translate(297.80,394.60) rotate(-90)">
<text x="0.00" y="0.00" font-size="12.5" font-weight="bold" fill="#111" textLength="159.00" lengthAdjust="spacingAndGlyphs">Specific Capacitance / F g</text>
<text x="160.20" y="-5.40" font-size="11.20" font-weight="bold" fill="#111">-1</text>
</g>
<path d="M276.1,202.3 L276.1,220.6 M276.1,213.8 A5.1,5.9 0 1 1 265.9,213.8 A5.1,5.9 0 1 1 276.1,213.8" fill="none" stroke="#111" stroke-width="1.3"/>
</svg></body></html>
